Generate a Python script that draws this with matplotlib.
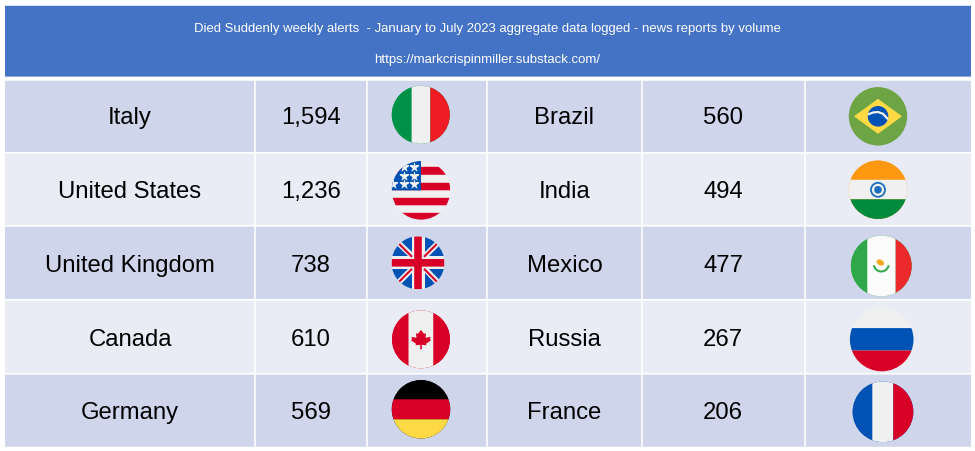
import matplotlib
matplotlib.use('Agg')
import matplotlib.pyplot as plt
from matplotlib.patches import Rectangle, Circle, Polygon, Wedge, Ellipse

plt.rcParams['font.family'] = ['Liberation Sans', 'DejaVu Sans']

title1 = 'Died Suddenly weekly alerts  - January to July 2023 aggregate data logged - news reports by volume'
title2 = 'https://markcrispinmiller.substack.com/'
left_names = ['Italy', 'United States', 'United Kingdom', 'Canada', 'Germany']
left_counts = ['1,594', '1,236', '738', '610', '569']
right_names = ['Brazil', 'India', 'Mexico', 'Russia', 'France']
right_counts = ['560', '494', '477', '267', '206']

col_edges = [(5, 254.2), (255.8, 366.2), (367.8, 486.2), (487.8, 641.2), (642.8, 804.2), (805.8, 971)]
row_edges = [(81, 152.2), (153.8, 225.2), (226.8, 299.2), (300.8, 373.2), (374.8, 447)]
text_y = [118, 192, 266.5, 340.5, 413]
BAND1 = '#cfd5ea'
BAND2 = '#e9ebf5'
HEAD = '#4472c4'
GREY = '#f0f0f0'
RED = '#d80027'
BLUE = '#0052b4'

fig = plt.figure(figsize=(9.75, 4.52), dpi=100, facecolor='white')
ax = fig.add_axes([0, 0, 1, 1])
ax.set_xlim(0, 975)
ax.set_ylim(451.2, -0.8)
ax.axis('off')


def rect(x0, y0, x1, y1, color, clip=None, z=3):
    r = Rectangle((x0, y0), x1 - x0, y1 - y0, facecolor=color, edgecolor='none', zorder=z)
    r.set_snap(False)
    ax.add_patch(r)
    if clip is not None:
        r.set_clip_path(clip)
    return r


def disc(cx, cy, rad, color):
    c = Circle((cx, cy), rad, facecolor=color, edgecolor='none', zorder=2.5)
    ax.add_patch(c)
    return c


def vstripes(cx, cy, rad, stops, colors):
    c = disc(cx, cy, rad, colors[0])
    xs = [cx - rad - 1] + [cx + s for s in stops] + [cx + rad + 1]
    for i, col in enumerate(colors):
        rect(xs[i], cy - rad - 1, xs[i + 1], cy + rad + 1, col, c)


def hstripes(cx, cy, rad, stops, colors):
    c = disc(cx, cy, rad, colors[0])
    ys = [cy - rad - 1] + [cy + s for s in stops] + [cy + rad + 1]
    for i, col in enumerate(colors):
        rect(cx - rad - 1, ys[i], cx + rad + 1, ys[i + 1], col, c)


def flag_italy(cx, cy, r):
    vstripes(cx, cy, r, [-9.2, 9.5], ['#009246', GREY, '#ef1c25'])


def flag_us(cx, cy, r):
    c = disc(cx, cy, r, GREY)
    for y0, y1 in [(-23.5, -15.5), (-7.5, 0), (7.5, 15), (22.5, 30)]:
        rect(cx - r, cy + y0, cx + r, cy + y1, RED, c)
    rect(cx - r, cy - r, cx, cy, BLUE, c, z=3.2)
    star_x = [cx - 7, cx - 17, cx - 7, cx - 17, cx - 28, cx - 17, cx - 7]
    star_y = [cy - 23, cy - 23, cy - 14, cy - 14, cy - 6, cy - 6, cy - 6]
    pts = ax.scatter(star_x, star_y, marker='*', s=60, color='#f4f4f4', linewidths=0, zorder=3.4)
    pts.set_clip_path(c)


def flag_uk(cx, cy, r):
    c = disc(cx, cy, r, GREY)
    for sx, sy in [(-1, -1), (1, -1), (-1, 1), (1, 1)]:
        tri = Polygon([(cx + sx * 6.5, cy + sy * 10.5), (cx + sx * 6.5, cy + sy * 30), (cx + sx * 26, cy + sy * 30)],
                      facecolor=BLUE, edgecolor='none', zorder=3)
        ax.add_patch(tri)
        tri.set_clip_path(c)
        tri = Polygon([(cx + sx * 10.5, cy + sy * 6.5), (cx + sx * 30, cy + sy * 6.5), (cx + sx * 30, cy + sy * 26)],
                      facecolor=BLUE, edgecolor='none', zorder=3)
        ax.add_patch(tri)
        tri.set_clip_path(c)
        ln, = ax.plot([cx + sx * 6, cx + sx * 21], [cy + sy * 6, cy + sy * 21], color=RED, lw=1.5,
                      solid_capstyle='butt', zorder=3.1)
        ln.set_clip_path(c)
    rect(cx - 3.8, cy - r, cx + 3.8, cy + r, RED, c, z=3.3)
    rect(cx - r, cy - 3.8, cx + r, cy + 3.8, RED, c, z=3.3)


def flag_canada(cx, cy, r):
    vstripes(cx, cy, r, [-12.5, 12.5], [RED, GREY, RED])
    leaf = [(0, -9.5), (3, -5.5), (5, -6), (4.5, -1.5), (9.5, -2.5), (9, 0), (10, 1), (5, 4.5), (5.5, 6), (0.8, 5.5),
            (0.8, 10), (-0.8, 10), (-0.8, 5.5), (-5.5, 6), (-5, 4.5), (-10, 1), (-9, 0), (-9.5, -2.5), (-4.5, -1.5),
            (-5, -6), (-3, -5.5)]
    ax.add_patch(Polygon([(cx + a, cy + b) for a, b in leaf], facecolor=RED, edgecolor='none', zorder=3.5))


def flag_germany(cx, cy, r):
    hstripes(cx, cy, r, [-10, 10], ['#000000', RED, '#ffda44'])


def flag_brazil(cx, cy, r):
    disc(cx, cy, r, '#6da544')
    ax.add_patch(Polygon([(cx, cy - 17.5), (cx + 24, cy), (cx, cy + 17.5), (cx - 24, cy)], facecolor='#ffda44',
                         edgecolor='none', zorder=3))
    c = Circle((cx, cy), 10.3, facecolor=BLUE, edgecolor='none', zorder=3.2)
    ax.add_patch(c)
    ln, = ax.plot([cx - 11, cx - 5, cx, cx + 5, cx + 11], [cy - 1.5, cy - 3.8, cy - 4.3, cy - 2.5, cy + 4],
                  color='#f0f0f0', lw=1.6, zorder=3.4)
    ln.set_clip_path(c)


def flag_india(cx, cy, r):
    hstripes(cx, cy, r, [-10, 9.5], ['#ff9811', GREY, '#008c3c'])
    ax.add_patch(Circle((cx, cy), 7, facecolor='none', edgecolor='#1a6fc0', lw=1.3, zorder=3.5))
    ax.add_patch(Circle((cx, cy), 3.8, facecolor='#1a6fc0', edgecolor='none', zorder=3.5))


def flag_mexico(cx, cy, r):
    vstripes(cx, cy, r, [-14, 14.4], ['#2fa84a', '#fbfbfb', '#ec2a2c'])
    ax.add_patch(Wedge((cx, cy - 2), 8.5, 10, 170, width=2, facecolor='#2fa84a', edgecolor='none', zorder=3.5))
    ax.add_patch(Ellipse((cx - 1, cy - 3.5), 8, 5.5, angle=30, facecolor='#f2a81d', edgecolor='none', zorder=3.6))


def flag_russia(cx, cy, r):
    hstripes(cx, cy, r, [-11.4, 11], [GREY, BLUE, RED])


def flag_france(cx, cy, r):
    vstripes(cx, cy, r, [-10.7, 10.3], [BLUE, GREY, RED])


left_flags = [(flag_italy, 420.8, 115, 29), (flag_us, 421, 190.5, 29.3), (flag_uk, 418, 263, 26.5),
              (flag_canada, 421, 339.5, 29), (flag_germany, 421, 409.5, 29.2)]
right_flags = [(flag_brazil, 878, 116.5, 29.2), (flag_india, 878, 190, 29.2), (flag_mexico, 881.3, 266.2, 30.4),
               (flag_russia, 881.7, 339.7, 31.8), (flag_france, 883, 412, 30.3)]

# header
rect(5, 6, 971, 76.8, HEAD, z=1)
ax.text(487, 28.5, title1, color='white', fontsize=9.45, ha='center', va='center')
ax.text(487, 59, title2, color='white', fontsize=9.55, ha='center', va='center')

# rows
for i, (y0, y1) in enumerate(row_edges):
    band = BAND1 if i % 2 == 0 else BAND2
    for x0, x1 in col_edges:
        rect(x0, y0, x1, y1, band, z=1)
    for x, label in [(130, left_names[i]), (311, left_counts[i]), (564.5, right_names[i]), (723, right_counts[i])]:
        ax.text(x, text_y[i] - 0.8, label, color='black', fontsize=17.2, ha='center', va='center')
    fn, cx, cy, r = left_flags[i]
    fn(cx, cy, r)
    fn, cx, cy, r = right_flags[i]
    fn(cx, cy, r)

fig.savefig('out.png', dpi=100)
